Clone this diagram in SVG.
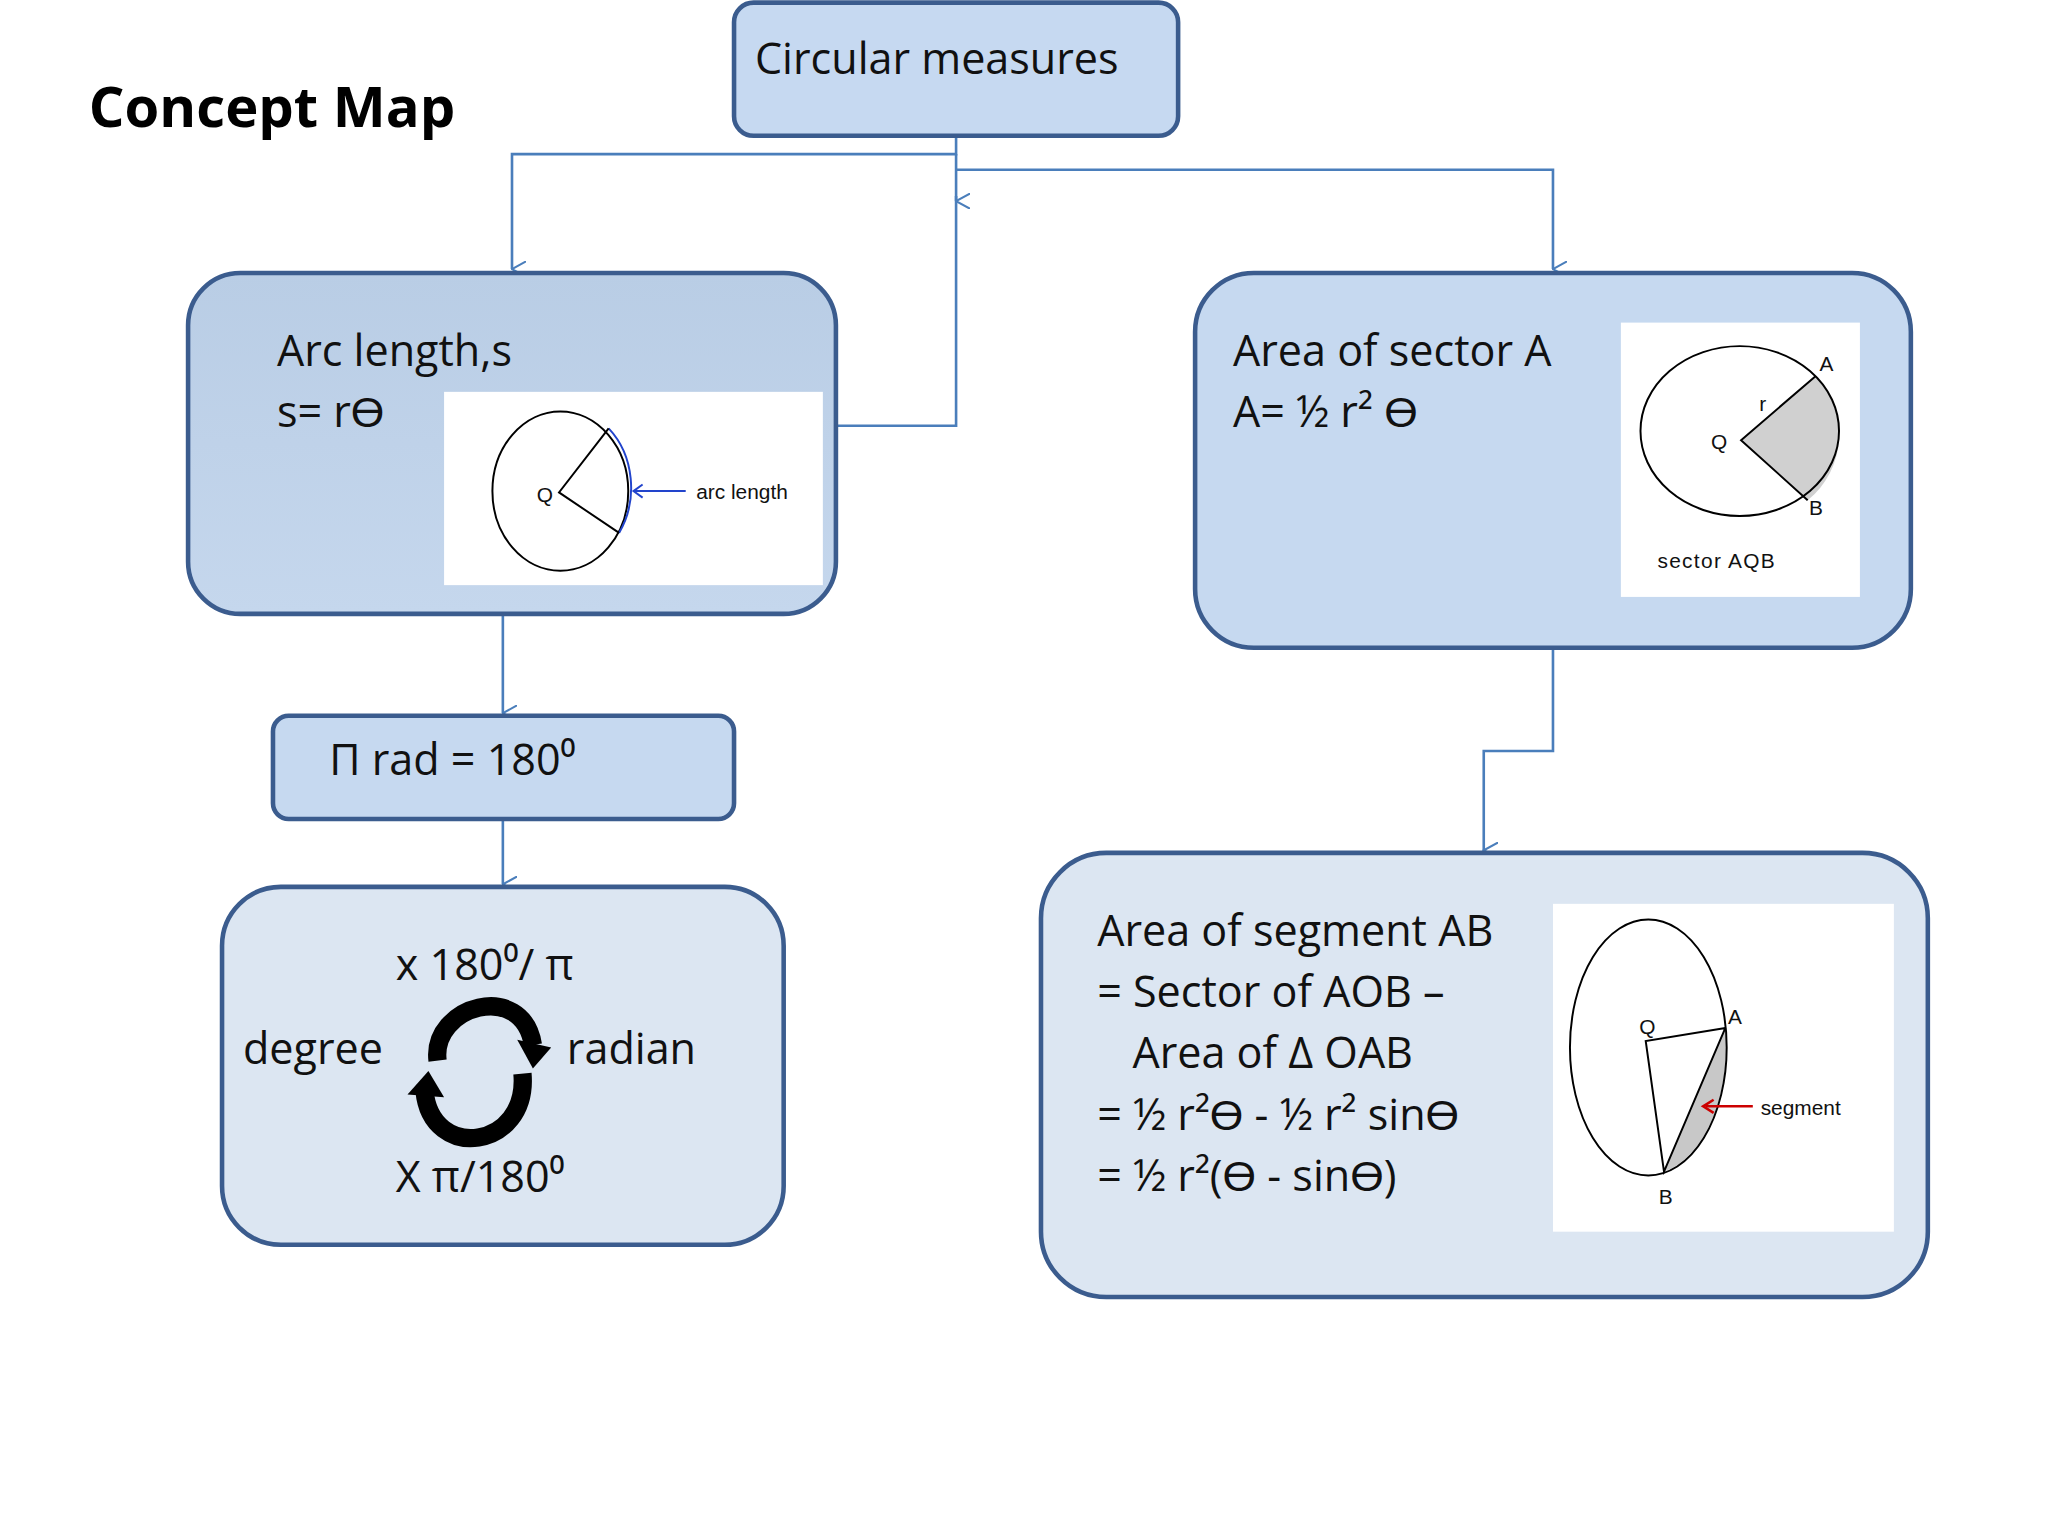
<svg xmlns="http://www.w3.org/2000/svg" width="2048" height="1536" viewBox="0 0 2048 1536">
<defs>
<style>
.box{stroke:#3b5c8e;stroke-width:3.5}
.t{font-family:"Open Sans","Liberation Sans",sans-serif;font-size:33px;fill:#111}
.c{fill:none;stroke:#4a7ebb;stroke-width:2}
.s{font-family:"Liberation Sans",sans-serif;font-size:16px;fill:#111}
.k{fill:none;stroke:#000;stroke-width:1.5}
</style>
<marker id="ar" viewBox="0 0 12 12" refX="6" refY="11" markerWidth="12" markerHeight="12" markerUnits="userSpaceOnUse" orient="auto-start-reverse">
<path d="M0,0 L6,11 L12,0" fill="none" stroke="#4a7ebb" stroke-width="1.6"/>
</marker>
<linearGradient id="g1" x1="0" y1="0" x2="0" y2="1"><stop offset="0" stop-color="#b9cde5"/><stop offset="1" stop-color="#c5d7ed"/></linearGradient>
</defs>
<rect width="2048" height="1536" fill="#fff"/>
<g transform="scale(1.30612)">
<text x="68" y="97" font-family="Open Sans,Liberation Sans,sans-serif" font-weight="bold" font-size="43" fill="#000">Concept Map</text>

<g id="connectors">
<polyline class="c" points="732,104 732,118 392,118 392,206" marker-end="url(#ar)"/>
<line class="c" x1="732" y1="118" x2="732" y2="154" marker-end="url(#ar)"/>
<polyline class="c" points="732,150 732,326 385,326 385,546" marker-end="url(#ar)"/>
<polyline class="c" points="732,130 1189,130 1189,206" marker-end="url(#ar)"/>
<polyline class="c" points="1189,496 1189,575 1136,575 1136,651" marker-end="url(#ar)"/>
<line class="c" x1="385" y1="627" x2="385" y2="677" marker-end="url(#ar)"/>
</g>

<g id="n-circular">
<rect class="box" x="562" y="2" width="340" height="102" rx="15" fill="#c6d9f1"/>
<text class="t" x="578" y="57">Circular measures</text>
</g>

<g id="n-arc">
<rect class="box" x="144" y="209" width="496" height="261" rx="40" fill="url(#g1)"/>
<text class="t" x="212" y="280">Arc length,s</text>
<text class="t" x="212" y="327">s= rϴ</text>
<rect x="340" y="300" width="290" height="148" fill="#fff"/>
<ellipse class="k" cx="429" cy="376" rx="52" ry="61"/>
<path d="M466,328 A52,61 0 0 1 474,408" fill="none" stroke="#2244cc" stroke-width="1.5"/>
<polyline class="k" points="466,328 428,377 474,408"/>
<text class="s" x="411" y="384">Q</text>
<line x1="525" y1="376" x2="486" y2="376" stroke="#2244cc" stroke-width="1.5"/>
<path d="M492,371 L485,376 L492,381" fill="none" stroke="#2244cc" stroke-width="1.5"/>
<text class="s" x="533" y="382">arc length</text>
</g>

<g id="n-sector">
<rect class="box" x="915" y="209" width="548" height="287" rx="45" fill="#c6d9f0"/>
<text class="t" x="944" y="280">Area of sector A</text>
<text class="t" x="944" y="327">A= ½ r² ϴ</text>
<rect x="1241" y="247" width="183" height="210" fill="#fff"/>
<path d="M1333,337 L1390,288 A66,65 0 0 1 1384,383 Z" fill="#d0d0d0"/>
<ellipse class="k" cx="1332" cy="330" rx="76" ry="65"/>
<polyline class="k" points="1390,288 1333,337 1384,383"/>
<text class="s" x="1393" y="284">A</text>
<text class="s" x="1385" y="394">B</text>
<text class="s" x="1310" y="344">Q</text>
<text class="s" x="1347" y="315">r</text>
<text class="s" x="1269" y="435" font-size="18" letter-spacing="1">sector AQB</text>
</g>

<g id="n-pi">
<rect class="box" x="209" y="548" width="353" height="79" rx="12" fill="#c6d9f0"/>
<text class="t" x="252" y="593">Π rad = 180⁰</text>
</g>

<g id="n-convert">
<rect class="box" x="170" y="679" width="430" height="274" rx="45" fill="#dce6f2"/>
<text class="t" x="303" y="750">x 180⁰/ π</text>
<text class="t" x="186" y="815">degree</text>
<text class="t" x="434" y="815">radian</text>
<text class="t" x="303" y="913">X π/180⁰</text>
<path d="M335,812 C330,770 400,750 408,800" fill="none" stroke="#000" stroke-width="14"/>
<path d="M396,796 L422,802 L408,818 Z" fill="#000"/>
<path d="M400,822 C405,880 330,890 325,835" fill="none" stroke="#000" stroke-width="14"/>
<path d="M312,838 L328,820 L340,840 Z" fill="#000"/>
</g>

<g id="n-segment">
<rect class="box" x="797" y="653" width="679" height="340" rx="50" fill="#dce6f2"/>
<text class="t" x="840" y="724">Area of segment AB</text>
<text class="t" x="840" y="771">= Sector of AOB –</text>
<text class="t" x="867" y="818">Area of Δ OAB</text>
<text class="t" x="840" y="865">= ½ r²ϴ - ½ r² sinϴ</text>
<text class="t" x="840" y="912">= ½ r²(ϴ -  sinϴ)</text>
<rect x="1189" y="692" width="261" height="251" fill="#fff"/>
<path d="M1321,787 A60,98 0 0 1 1274,897 Z" fill="#c8c8c8"/>
<ellipse class="k" cx="1262" cy="802" rx="60" ry="98"/>
<polyline class="k" points="1321,787 1260,797 1274,897 1321,787" stroke-width="2"/>
<text class="s" x="1255" y="792">Q</text>
<text class="s" x="1323" y="784">A</text>
<text class="s" x="1270" y="922">B</text>
<line x1="1342" y1="847" x2="1306" y2="847" stroke="#cc0000" stroke-width="2"/>
<path d="M1312,842 L1304,847 L1312,852" fill="none" stroke="#cc0000" stroke-width="2"/>
<text class="s" x="1348" y="854" font-size="20">segment</text>
</g>
</g>
</svg>
